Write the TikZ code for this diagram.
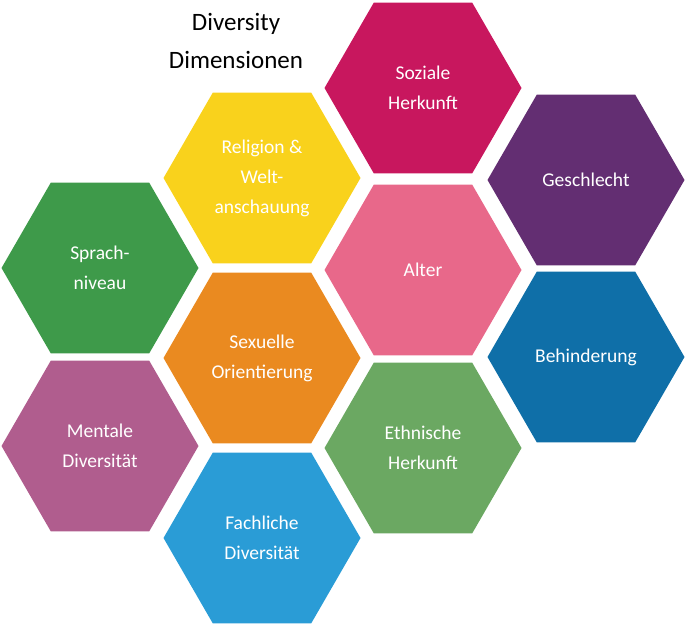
\documentclass[tikz,border=0pt]{standalone}
\usepackage{fontspec}
\setmainfont{Carlito}
\usetikzlibrary{shapes.geometric}
\definecolor{cSoz}{HTML}{C8175E}
\definecolor{cRel}{HTML}{F9D21C}
\definecolor{cGes}{HTML}{632E72}
\definecolor{cSpr}{HTML}{3E9A4A}
\definecolor{cAlt}{HTML}{E8688A}
\definecolor{cSex}{HTML}{EA8A20}
\definecolor{cBeh}{HTML}{0F6FA8}
\definecolor{cMen}{HTML}{B05D8E}
\definecolor{cEth}{HTML}{6BA862}
\definecolor{cFac}{HTML}{2A9CD6}
\tikzset{hex/.style={regular polygon, regular polygon sides=6, minimum size=197pt, inner sep=0pt, outer sep=0pt, fill=#1},
 lbl/.style={text=white, align=center, inner sep=0pt, font=\fontsize{19.5}{30}\selectfont}}
\newcommand{\hexa}[5]{\node[hex=#2] (#1) at (#3,#4) {}; \node[lbl] (#1t) at (#1.center) {#5};}
\begin{document}
\begin{tikzpicture}[x=1pt,y=-1pt]
\useasboundingbox (0,0) rectangle (685,624);
\hexa{soz}{cSoz}{423}{88}{Soziale\\Herkunft}
\hexa{rel}{cRel}{262}{178}{Religion \&\\Welt-\\anschauung}
\hexa{ges}{cGes}{586}{180}{Geschlecht}
\hexa{spr}{cSpr}{100}{268}{Sprach-\\niveau}
\hexa{alt}{cAlt}{423}{270}{Alter}
\hexa{sex}{cSex}{262}{358}{Sexuelle\\Orientierung}
\hexa{beh}{cBeh}{586}{357}{Behinderung}
\hexa{men}{cMen}{100}{446}{Mentale\\Diversität}
\hexa{eth}{cEth}{423}{448}{Ethnische\\Herkunft}
\hexa{fac}{cFac}{262}{538}{Fachliche\\Diversität}
\node[align=center, font=\fontsize{25}{38}\selectfont] (title) at (236,41) {Diversity\\Dimensionen};
\end{tikzpicture}
\end{document}
